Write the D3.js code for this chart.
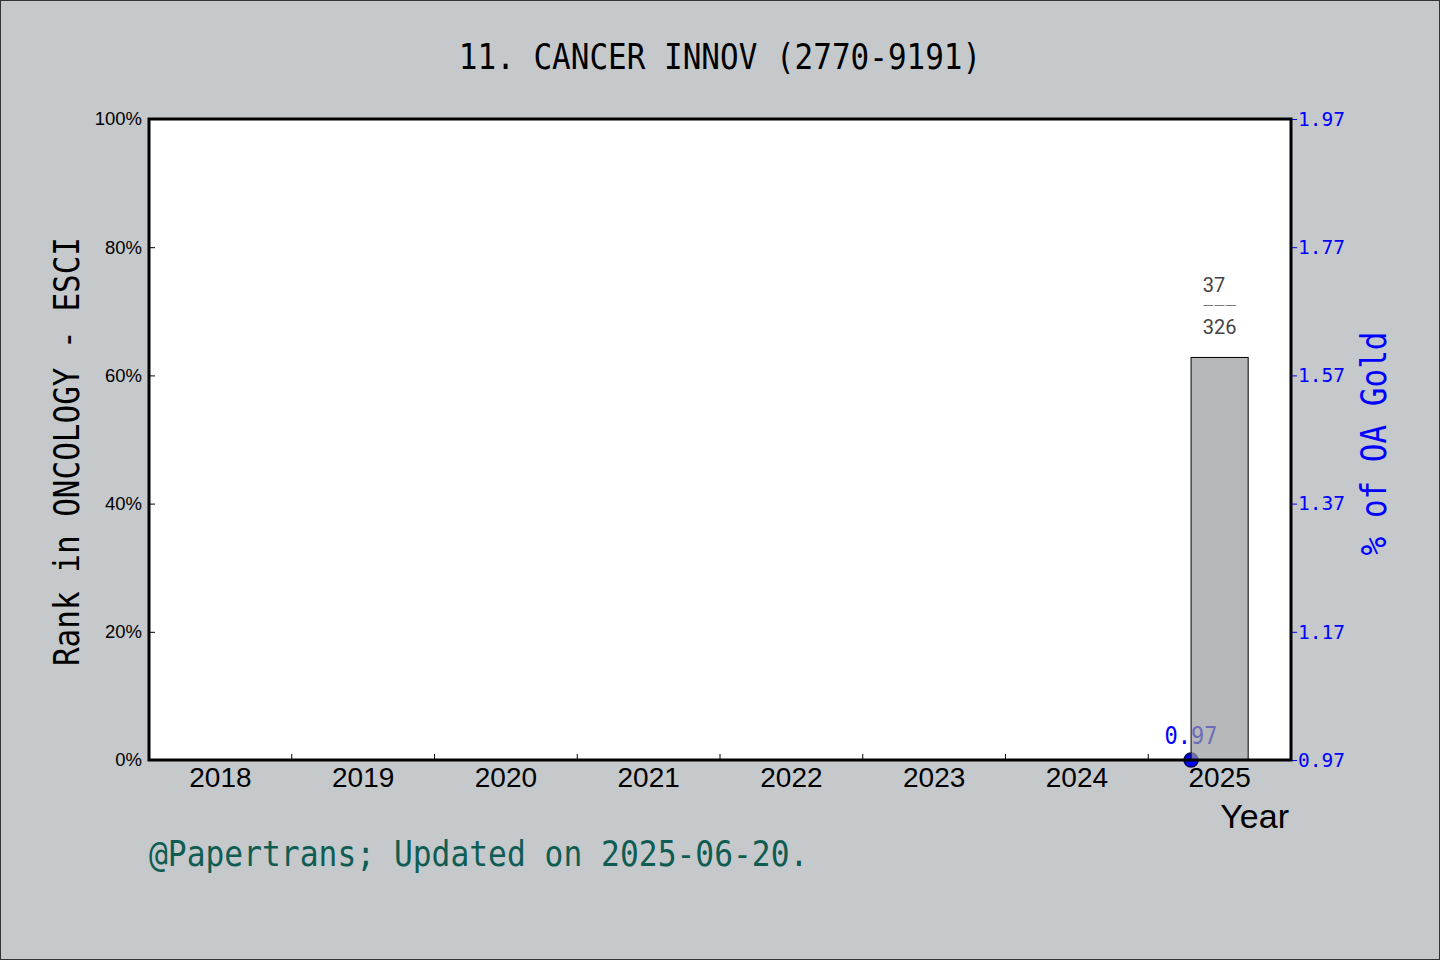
<!DOCTYPE html>
<html>
<head>
<meta charset="utf-8">
<script src="https://cdn.jsdelivr.net/npm/d3@7"></script>
<style>
    body { margin: 0; background: #c5c9cc; }
    svg { display: block; }
</style>
</head>
<body>
<div id="chart"></div>
<script>
// values
const years = ["2018", "2019", "2020", "2021", "2022", "2023", "2024", "2025"];
const rankShare = [null, null, null, null, null, null, null, 0.628];
const rankPos = [null, null, null, null, null, null, null, 37];
const rankTotal = [null, null, null, null, null, null, null, 326];
const oaGold = [null, null, null, null, null, null, null, 0.97];
const leftTicks = [0, 0.2, 0.4, 0.6, 0.8, 1.0];
const rightTicks = [0.97, 1.17, 1.37, 1.57, 1.77, 1.97];
const title = "11. CANCER INNOV (2770-9191)";
const footer = "@Papertrans; Updated on 2025-06-20.";

const W = 1440, H = 960;
const margin = {left: 149, right: 149, top: 119, bottom: 200};
const mono = "'DejaVu Sans Mono', monospace";
const sans = "'Liberation Sans', Arial, sans-serif";
const stretch = " scale(1,1.15)"; // the mono glyphs in the picture are a bit taller

let svg = d3.select("#chart")
    .append("svg")
    .attr("width", W)
    .attr("height", H);

// figure background with its thin frame
svg.append("rect")
    .attr("x", 0.5).attr("y", 0.5)
    .attr("width", W - 1).attr("height", H - 1)
    .attr("fill", "#c5c9cc")
    .attr("stroke", "#333")
    .attr("stroke-width", 1);

const x = d3.scaleBand()
    .domain(years)
    .range([margin.left, W - margin.right])
    .padding(0);
const y = d3.scaleLinear()
    .domain([0, 1])
    .range([H - margin.bottom, margin.top]);
const y2 = d3.scaleLinear()
    .domain([rightTicks[0], rightTicks[rightTicks.length - 1]])
    .range([H - margin.bottom, margin.top]);

const x0 = x.range()[0], x1 = x.range()[1];
const yb = y.range()[0], yt = y.range()[1];

svg.append("rect")
    .attr("x", x0).attr("y", yt)
    .attr("width", x1 - x0).attr("height", yb - yt)
    .attr("fill", "white");

// left axis (inward ticks)
let gl = svg.append("g")
    .attr("transform", "translate(" + x0 + ",0)")
    .call(d3.axisLeft(y).tickValues(leftTicks).tickFormat(d3.format(".0%"))
        .tickSizeInner(-6).tickSizeOuter(0).tickPadding(7));
gl.select(".domain").remove();
gl.selectAll("text")
    .style("font-family", sans)
    .style("font-size", "18.5px")
    .attr("fill", "black");

// bottom axis: labels at band centres, tick marks on band edges
let gb = svg.append("g")
    .attr("transform", "translate(0," + yb + ")")
    .call(d3.axisBottom(x).tickSize(0).tickPadding(7));
gb.select(".domain").remove();
gb.selectAll("text")
    .style("font-family", sans)
    .style("font-size", "28px")
    .attr("fill", "black");
svg.append("g")
    .selectAll("line")
    .data(years.slice(1))
    .enter()
    .append("line")
    .attr("x1", d => x(d)).attr("x2", d => x(d))
    .attr("y1", yb).attr("y2", yb - 6)
    .attr("stroke", "black")
    .attr("stroke-width", 1);

// right axis in blue
let gr = svg.append("g")
    .attr("transform", "translate(" + x1 + ",0)")
    .call(d3.axisRight(y2).tickValues(rightTicks).tickFormat(d3.format(".2f"))
        .tickSizeInner(6).tickSizeOuter(0).tickPadding(1));
gr.select(".domain").remove();
gr.selectAll("line").attr("stroke", "blue");
gr.selectAll("text")
    .style("font-family", mono)
    .style("font-size", "19.5px")
    .attr("fill", "blue");

const barW = x.bandwidth() * 0.4;
const goldData = years.map((d, i) => ({year: d, v: oaGold[i]})).filter(d => d.v !== null);
const rankData = years.map((d, i) => ({year: d, v: rankShare[i], pos: rankPos[i], tot: rankTotal[i]}))
    .filter(d => d.v !== null);

// OA gold points sit at the left edge of the bar
svg.append("g")
    .selectAll("circle")
    .data(goldData)
    .enter()
    .append("circle")
    .attr("cx", d => x(d.year) + x.bandwidth() / 2 - barW / 2)
    .attr("cy", d => y2(d.v))
    .attr("r", 7)
    .attr("fill", "blue")
    .attr("stroke", "#0a0a50")
    .attr("stroke-width", 1.5);
svg.append("g")
    .selectAll("text")
    .data(goldData)
    .enter()
    .append("text")
    .attr("transform", d => "translate(" + (x(d.year) + x.bandwidth() / 2 - barW / 2) + "," + (y2(d.v) - 16) + ")" + stretch)
    .attr("text-anchor", "middle")
    .style("font-family", mono)
    .style("font-size", "22px")
    .attr("fill", "blue")
    .text(d => d3.format(".2f")(d.v));

// rank bars, semi transparent so the label shows through
svg.append("g")
    .selectAll("rect")
    .data(rankData)
    .enter()
    .append("rect")
    .attr("x", d => x(d.year) + x.bandwidth() / 2 - barW / 2)
    .attr("y", d => y(d.v))
    .attr("width", barW)
    .attr("height", d => yb - y(d.v))
    .attr("fill", "rgba(153,154,157,0.7)")
    .attr("stroke", "black")
    .attr("stroke-width", 1);

// "pos / --- / total" label block, lines left aligned, block centred on bar
rankData.forEach(function(d) {
    const cx = x(d.year) + x.bandwidth() / 2;
    const top = y(d.v);
    let g = svg.append("g")
        .style("font-family", "Roboto, sans-serif")
        .style("font-size", "20px");
    let t1 = g.append("text").attr("y", top - 65).attr("fill", "#444").text(d.pos);
    let t3 = g.append("text").attr("y", top - 23).attr("fill", "#444").text(d.tot);
    let wMax = Math.max(t1.node().getComputedTextLength(), t3.node().getComputedTextLength());
    let left = cx - wMax / 2;
    t1.attr("x", left);
    t3.attr("x", left);
    g.append("text")
        .attr("x", left).attr("y", top - 48)
        .attr("textLength", wMax)
        .attr("lengthAdjust", "spacingAndGlyphs")
        .style("font-size", "12px")
        .attr("fill", "#777")
        .text("---");
});

// spines
svg.append("rect")
    .attr("x", x0).attr("y", yt)
    .attr("width", x1 - x0).attr("height", yb - yt)
    .attr("fill", "none")
    .attr("stroke", "black")
    .attr("stroke-width", 3);

// titles and labels
svg.append("text")
    .attr("transform", "translate(" + (W / 2) + ",69)" + stretch)
    .attr("text-anchor", "middle")
    .style("font-family", mono)
    .style("font-size", "31px")
    .text(title);

svg.append("text")
    .attr("transform", "translate(79," + ((yt + yb) / 2 + 12) + ") rotate(-90)" + stretch)
    .attr("text-anchor", "middle")
    .style("font-family", mono)
    .style("font-size", "31px")
    .text("Rank in ONCOLOGY - ESCI");

svg.append("text")
    .attr("transform", "translate(1386," + ((yt + yb) / 2 + 4) + ") rotate(-90)" + stretch)
    .attr("text-anchor", "middle")
    .style("font-family", mono)
    .style("font-size", "31px")
    .attr("fill", "blue")
    .text("% of OA Gold");

svg.append("text")
    .attr("x", x1 - 2).attr("y", 828)
    .attr("text-anchor", "end")
    .style("font-family", sans)
    .style("font-size", "34px")
    .text("Year");

svg.append("text")
    .attr("transform", "translate(" + x0 + ",866)" + stretch)
    .style("font-family", mono)
    .style("font-size", "31.3px")
    .attr("fill", "#0f5c52")
    .text(footer);
</script>
</body>
</html>
